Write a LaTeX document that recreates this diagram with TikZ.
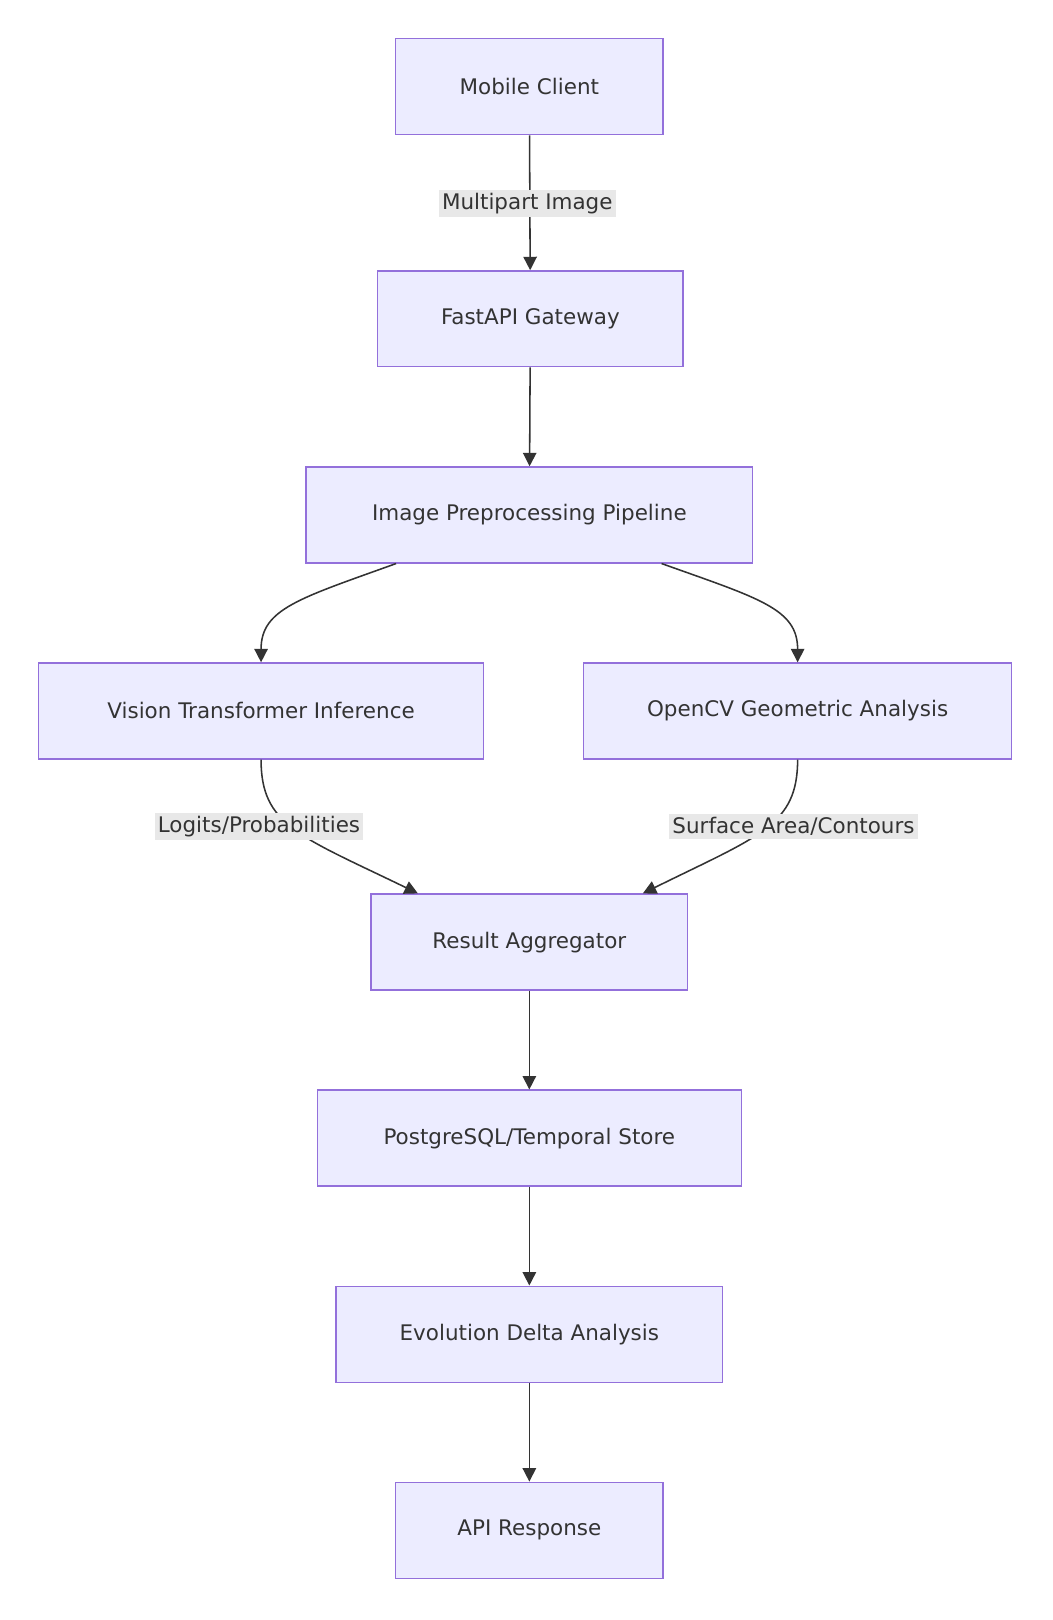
\documentclass[tikz,border=0pt]{standalone}
\usepackage{fontspec}
\setmainfont{DejaVu Sans}
\usetikzlibrary{arrows.meta}
\definecolor{nf}{HTML}{ECECFF}
\definecolor{nb}{HTML}{9370DB}
\definecolor{ln}{HTML}{333333}
\definecolor{lb}{HTML}{E8E8E8}
\begin{document}
\begin{tikzpicture}[x=1pt,y=-1pt,
 box/.style={draw=nb,fill=nf,line width=1.3pt,minimum height=93pt,inner sep=0pt,font=\fontsize{20.8}{24}\selectfont,text=ln},
 ar/.style={draw=ln,line width=1.5pt,-{Triangle[length=13pt,width=13pt]}},
 lab/.style={fill=lb,inner sep=3pt,font=\fontsize{20.8}{24}\selectfont,text=ln}]
\useasboundingbox (0,0) rectangle (1020,1570);
\node[box,minimum width=259pt] (a) at (513,84) {Mobile Client};
\node[box,minimum width=296pt] (b) at (514,309) {FastAPI Gateway};
\node[box,minimum width=433pt] (c) at (513,499) {Image Preprocessing Pipeline};
\node[box,minimum width=431pt] (d) at (253,689) {Vision Transformer Inference};
\node[box,minimum width=415pt] (e) at (773,689) {OpenCV Geometric Analysis};
\node[box,minimum width=307pt] (f) at (513,913) {Result Aggregator};
\node[box,minimum width=411pt] (g) at (513,1103) {PostgreSQL/Temporal Store};
\node[box,minimum width=375pt] (h) at (513,1293) {Evolution Delta Analysis};
\node[box,minimum width=259pt] (i) at (513,1483) {API Response};
\draw[ar] (a) -- (b);
\node[lab] (la) at (511,197) {Multipart Image};
\draw[ar] (b) -- (c);
\draw[ar] (c.south west) ++(88,0) coordinate (c1) (c1) .. controls (290,580) and (253,590) .. (d.north);
\draw[ar] (c.south east) ++(-89,0) coordinate (c2) (c2) .. controls (736,580) and (773,590) .. (e.north);
\draw[ar] (d.south) .. controls (253,800) and (290,810) .. ([xshift=-108pt]f.north);
\draw[ar] (e.south) .. controls (773,800) and (736,810) .. ([xshift=110pt]f.north);
\node[lab] (lb1) at (251,801) {Logits/Probabilities};
\node[lab] (lb2) at (769,801) {Surface Area/Contours};
\draw[ar] (f) -- (g);
\draw[ar] (g) -- (h);
\draw[ar] (h) -- (i);
\end{tikzpicture}
\end{document}
